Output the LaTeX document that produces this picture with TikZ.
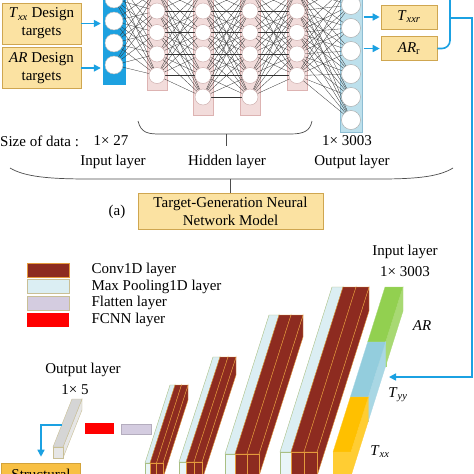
\documentclass[tikz,border=0pt]{standalone}
\usepackage{fontspec}
\setmainfont{Liberation Serif}
\usetikzlibrary{positioning,arrows.meta}

\pgfdeclarelayer{back}
\pgfdeclarelayer{wires}
\pgfsetlayers{back,wires,main}

\definecolor{flowblue}{HTML}{1BA1E2}
\definecolor{inblue}{HTML}{1DA1E0}
\definecolor{hidpink}{HTML}{F2DCDB}
\definecolor{hidedge}{HTML}{DDB3B2}
\definecolor{outcyan}{HTML}{BDE0EC}
\definecolor{outedge}{HTML}{8DBDD3}
\definecolor{boxfill}{HTML}{FBE2A2}
\definecolor{boxedge}{HTML}{CFA650}
\definecolor{structfill}{HTML}{F8C044}
\definecolor{convbrown}{HTML}{8D2B20}
\definecolor{convedge}{HTML}{E49A3C}
\definecolor{poolcyan}{HTML}{DBEEF3}
\definecolor{pooledge}{HTML}{A9BF84}
\definecolor{flatlilac}{HTML}{D4CCE0}
\definecolor{fcnnred}{HTML}{FF0000}
\definecolor{argreen}{HTML}{92D050}
\definecolor{tyyblue}{HTML}{93CDDD}
\definecolor{txxyellow}{HTML}{FFC000}
\definecolor{outgray}{HTML}{D5D5D5}
\definecolor{khaki}{HTML}{C9BF95}
\definecolor{wire}{HTML}{333333}
\definecolor{bracegray}{HTML}{4D4D4D}

% variable with italic subscript
\newcommand{\vsym}[2]{\textit{#1}\textsubscript{\textit{#2}}}
% x, y of front top-left, width, height, dx, dy of depth, kind
\newcommand{\cnnslab}[7]{%
  \filldraw[#7 side] ({#1+#3},{#2+#4}) -- ({#1+#3},#2) -- ++(#5,-#6) -- ++(0,#4) -- cycle;
  \filldraw[#7 top] (#1,#2) -- ++(#3,0) -- ++(#5,-#6) -- ++(-#3,0) -- cycle;
  \filldraw[#7 side] (#1,#2) rectangle ++(#3,#4);
}

\begin{document}
\begin{tikzpicture}[x=1pt,y=-1pt,>=Triangle,
    every node/.style={font=\fontsize{15}{18}\selectfont},
    in neuron/.style={circle,draw=gray!55,fill=white,minimum size=18pt,inner sep=0pt,line width=0.4pt},
    hid neuron/.style={circle,draw=hidedge!80!gray,fill=white,minimum size=16pt,inner sep=0pt,line width=0.4pt},
    out neuron/.style={circle,draw=gray!70,fill=white,minimum size=19pt,inner sep=0pt,line width=0.4pt},
    link/.style={draw=wire,line width=0.3pt},
    hid col/.style={fill=hidpink,draw=hidedge,line width=0.5pt},
    target box/.style={draw=boxedge,fill=boxfill,line width=0.6pt,minimum width=79pt,minimum height=41pt,align=center,inner sep=1pt},
    result box/.style={draw=boxedge,fill=boxfill,line width=0.6pt,minimum width=56pt,minimum height=24pt,inner sep=1pt},
    flow/.style={draw=flowblue,line width=1.6pt,-{Triangle[length=7pt,width=7pt]}},
    flow line/.style={draw=flowblue,line width=1.6pt},
    brace/.style={draw=bracegray,line width=0.7pt},
    swatch/.style={minimum width=42pt,minimum height=14pt,inner sep=0pt,line width=0.6pt},
    legend text/.style={inner sep=2pt},
    conv top/.style={fill=convbrown,draw=convedge,line width=0.4pt},
    conv side/.style={fill=convbrown,draw=convedge,line width=0.4pt},
    pool top/.style={fill=poolcyan,draw=pooledge,line width=0.4pt},
    pool side/.style={fill=poolcyan!60!white,draw=pooledge,line width=0.4pt},
    outp top/.style={fill=outgray,draw=khaki,line width=0.4pt},
    outp side/.style={fill=outgray!60!white,draw=khaki,line width=0.4pt},
    ar top/.style={fill=argreen,draw=argreen!80!white,line width=0.3pt},
    ar side/.style={fill=argreen!80!white,draw=argreen!80!white,line width=0.3pt},
    tyy top/.style={fill=tyyblue,draw=tyyblue!80!white,line width=0.3pt},
    tyy side/.style={fill=tyyblue!80!white,draw=tyyblue!80!white,line width=0.3pt},
    txx top/.style={fill=txxyellow,draw=txxyellow!80!white,line width=0.3pt},
    txx side/.style={fill=txxyellow!80!white,draw=txxyellow!80!white,line width=0.3pt}]
  \useasboundingbox (0,0) rectangle (474,474);

  % ---------- target-generation network ----------
  \begin{pgfonlayer}{back}
    \fill[white] (0,0) rectangle (474,474);
    \filldraw[fill=inblue,draw=inblue] (103,-40) rectangle (125,84);
    \filldraw[hid col] (147,-40) rectangle (167,90);
    \filldraw[hid col] (193,-40) rectangle (213,115);
    \filldraw[hid col] (240,-40) rectangle (260,115);
    \filldraw[hid col] (287,-40) rectangle (307,90);
    \filldraw[fill=outcyan,draw=outedge,line width=0.5pt] (340,-40) rectangle (362,132);
  \end{pgfonlayer}

  \foreach \n/\y in {0/-23,1/-1,2/21,3/43,4/65}
    \node[in neuron] (i\n) at (114,\y) {};
  \foreach \n/\y in {0/-10.5,1/11,2/32.5,3/54,4/75.5} {
    \node[hid neuron] (a\n) at (157,\y) {};
    \node[hid neuron] (d\n) at (297,\y) {};
  }
  \foreach \n/\y in {0/-10.5,1/11,2/32.5,3/54,4/75.5,5/97} {
    \node[hid neuron] (b\n) at (203,\y) {};
    \node[hid neuron] (c\n) at (250,\y) {};
  }
  \foreach \n/\y in {0/-18,1/5,2/28,3/51,4/74,5/97,6/120}
    \node[out neuron] (o\n) at (351,\y) {};

  \begin{pgfonlayer}{wires}
    \foreach \p in {0,...,4} \foreach \q in {0,...,4} \draw[link] (i\p) -- (a\q);
    \foreach \p in {0,...,4} \foreach \q in {0,...,5} \draw[link] (a\p) -- (b\q);
    \foreach \p in {0,...,5} \foreach \q in {0,...,5} \draw[link] (b\p) -- (c\q);
    \foreach \p in {0,...,5} \foreach \q in {0,...,4} \draw[link] (c\p) -- (d\q);
    \foreach \p in {0,...,4} \foreach \q in {0,...,6} \draw[link] (d\p) -- (o\q);
  \end{pgfonlayer}

  \node[target box] (tyybox) at (41.5,-21) {};
  \node[target box] (txxbox) at (41.5,23.5) {\vsym{T}{xx} Design\\targets};
  \node[target box] (arbox) at (41.5,68) {\textit{AR} Design\\targets};
  \draw[flow,shorten >=4pt] (txxbox.east) -- (txxbox.east -| i2.west);
  \draw[flow,shorten >=4pt] (arbox.east) -- (arbox.east -| i4.west);

  \node[result box] (txxr) at (409,17) {\vsym{T}{xxr}};
  \node[result box] (arr) at (409,48.5) {\textit{AR}\textsubscript{r}};
  \draw[flow,shorten <=3pt,shorten >=1pt] (txxr.west -| o1.east) -- (txxr.west);
  \draw[flow,shorten <=3pt,shorten >=1pt] (arr.west -| o1.east) -- (arr.west);

  \coordinate (split) at (450,18);
  \coordinate (tyyin) at (389,377);
  \draw[flow line,rounded corners=8pt] (arr.east) -| (450,-5);
  \draw[flow] (split) -| (472,377) -- (tyyin);

  % braces and sizes
  \draw[brace] (138,121) .. controls (141,133) and (148,134) .. (160,134) -- (290,134) .. controls (304,134) and (310,131) .. (312,121);
  \draw[brace] (226,134) -- (226,146);
  \node[anchor=west,inner sep=0pt] (sizelbl) at (0,141) {Size of data :};
  \node (insize) at (111,141) {1× 27};
  \node (outsize) at (347,141) {1× 3003};
  \node (inlbl) at (113,162) {Input layer};
  \node (hidlbl) at (227,162) {Hidden layer};
  \node (outlbl) at (352,162) {Output layer};
  \node[target box,minimum width=185pt,minimum height=36pt] (tgnn) at (230.5,211) {Target-Generation Neural\\Network Model};
  \draw[brace] (10,168) .. controls (25,177) and (50,179) .. (90,179) -- (380,179) .. controls (420,179) and (440,176) .. (453,168);
  \draw[brace] (tgnn.north |- 0,179) -- (tgnn.north);
  \node (tag) at (117,212) {(a)};

  % ---------- legend ----------
  \node[swatch,fill=convbrown,draw=convedge] (legconv) at (48,270) {};
  \node[swatch,fill=poolcyan,draw=khaki] (legpool) at (48,286.5) {};
  \node[swatch,fill=flatlilac,draw=khaki] (legflat) at (48,303) {};
  \node[swatch,fill=fcnnred] (legfcnn) at (48,320) {};
  \node[legend text,right=20pt of legconv] {Conv1D layer};
  \node[legend text,right=20pt of legpool] {Max Pooling1D layer};
  \node[legend text,right=20pt of legflat] {Flatten layer};
  \node[legend text,right=20pt of legfcnn] {FCNN layer};

  % ---------- convolutional network ----------
  \cnnslab{145}{463}{5}{15}{25}{78}{pool}
  \cnnslab{150}{463}{6.5}{15}{25}{78}{conv}
  \cnnslab{156.5}{463}{6.5}{15}{25}{78}{conv}
  \cnnslab{179}{462}{7}{18}{34}{105}{pool}
  \cnnslab{186}{462}{8}{18}{34}{105}{conv}
  \cnnslab{194}{462}{8}{18}{34}{105}{conv}
  \cnnslab{225}{454}{10}{22}{44}{139}{pool}
  \cnnslab{235}{454}{12}{22}{44}{139}{conv}
  \cnnslab{247}{454}{12}{22}{44}{139}{conv}
  \cnnslab{280}{452}{11}{24}{52}{165}{pool}
  \cnnslab{291}{452}{13}{24}{52}{165}{conv}
  \cnnslab{304}{452}{13}{24}{52}{165}{conv}
  % input layer
  \cnnslab{367.66}{342}{18}{24}{17.34}{55}{ar}
  \cnnslab{350.33}{397}{18}{24}{17.33}{55}{tyy}
  \cnnslab{333}{452}{18}{24}{17.33}{55}{txx}
  \node (cinlbl) at (405,252) {Input layer};
  \node (cinsize) at (405,272) {1× 3003};
  \node (arlbl) at (422,326) {\textit{AR}};
  \node (tyylbl) at (398,395) {\vsym{T}{yy}};
  \node (txxlbl) at (380,452) {\vsym{T}{xx}};

  % output side
  \cnnslab{53}{447}{10}{11}{19}{48}{outp}
  \node[fill=fcnnred,minimum width=29pt,minimum height=11pt,inner sep=0pt] (fcnn) at (99.5,428.5) {};
  \node[fill=flatlilac,draw=flatlilac!85!black,line width=0.4pt,minimum width=30pt,minimum height=10pt,inner sep=0pt] (flat) at (136,429) {};
  \node (coutlbl) at (83,370) {Output layer};
  \node (coutsize) at (75,390) {1× 5};
  \node[fill=structfill,draw=structfill!85!black,line width=0.6pt,minimum width=79pt,minimum height=22pt,inner sep=1pt] (structbox) at (41,474) {Structural};
  \coordinate (outtap) at (62,425);
  \draw[flow,shorten >=6pt] (outtap) -| (structbox.north);
\end{tikzpicture}
\end{document}
